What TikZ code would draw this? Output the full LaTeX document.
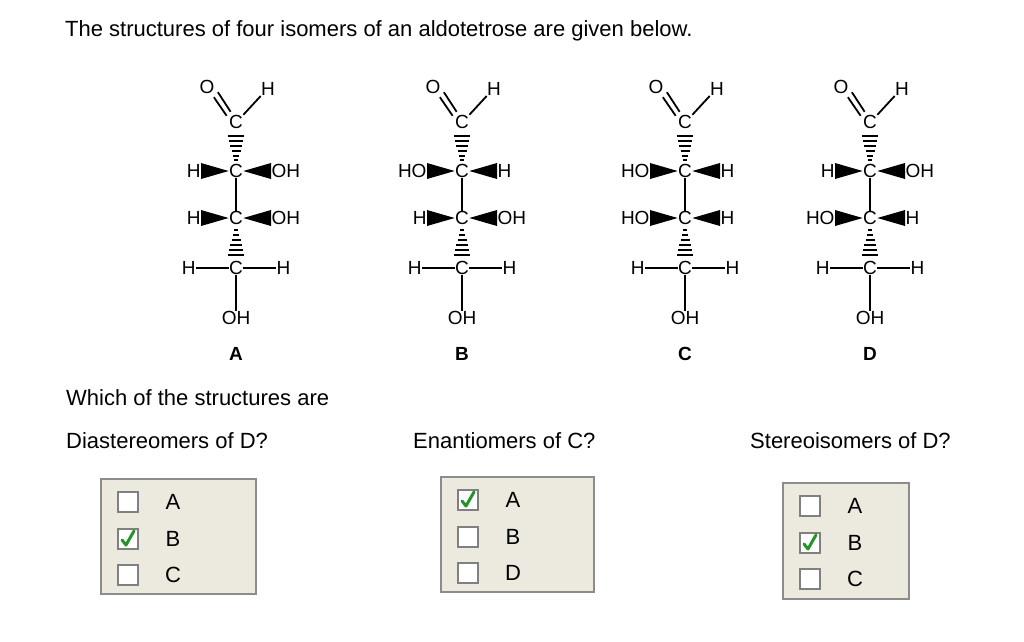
\documentclass[tikz,border=0pt]{standalone}
\usepackage{fontspec}
\setmainfont{Liberation Sans}
\definecolor{panelbg}{HTML}{ECE9DE}
\begin{document}
\begin{tikzpicture}[x=1pt,y=-1pt,
  atom/.style={inner sep=0.3pt,font=\fontsize{19}{19}\selectfont},
  lbl/.style={inner sep=0pt,font=\fontsize{22}{22}\selectfont,anchor=west},
  bond/.style={line width=1.8pt},
  panel/.style={draw=black!45,line width=2pt,fill=panelbg},
  cbox/.style={draw=black!50,line width=2.2pt,fill=white,minimum size=20pt,inner sep=0pt},
  tick/.style={draw=green!50!black!85,line width=3pt,line cap=round,line join=round}]
\useasboundingbox (0,0) rectangle (1024,641);
\node[lbl] (title) at (65,31) {The structures of four isomers of an aldotetrose are given below.};
\newcommand\molecule[7]{%
 \begin{scope}[shift={(#1,0)}]
  \node[atom] (#2o) at (-29,87) {O};
  \node[atom] (#2h) at (32,89) {H};
  \node[atom] (#2c0) at (0,122) {C};
  \node[atom] (#2c1) at (0,171) {C};
  \node[atom] (#2c2) at (0,218) {C};
  \node[atom] (#2c3) at (0,268) {C};
  \node[atom] (#2oh) at (0,318) {OH};
  \node[atom,anchor=east] (#2l1) at (-35,171) {#3};
  \node[atom,anchor=west] (#2r1) at (35,171) {#4};
  \node[atom,anchor=east] (#2l2) at (-35,218) {#5};
  \node[atom,anchor=west] (#2r2) at (35,218) {#6};
  \node[atom,anchor=east] (#2l3) at (-40,268) {H};
  \node[atom,anchor=west] (#2r3) at (40,268) {H};
  \node[atom,font=\fontsize{19}{19}\selectfont\bfseries] (#2lab) at (0,354) {#7};
  \draw[bond] ([shift={(3,-2)}]#2o.south east) -- ([shift={(2,-3)}]#2c0.north west);
  \draw[bond] ([shift={(-1,3)}]#2o.south east) -- ([shift={(-2,1)}]#2c0.north west);
  \draw[bond] (#2h.south west) -- (#2c0.north east);
  \foreach \y/\w in {136/8,141/7,146/6,151/4.5,156/3,160/2}{\draw[line width=1.8pt] (-\w,\y) -- (\w,\y);}
  \foreach \y/\w in {230/2,235/3,240/4.5,245/6,250/7,255/8}{\draw[line width=1.8pt] (-\w,\y) -- (\w,\y);}
  \draw[bond] (#2c1) -- (#2c2);
  \fill (#2c1.west) -- (#2l1.east |- 0,163) -- (#2l1.east |- 0,179) -- cycle;
  \fill (#2c1.east) -- (#2r1.west |- 0,163) -- (#2r1.west |- 0,179) -- cycle;
  \fill (#2c2.west) -- (#2l2.east |- 0,210) -- (#2l2.east |- 0,226) -- cycle;
  \fill (#2c2.east) -- (#2r2.west |- 0,210) -- (#2r2.west |- 0,226) -- cycle;
  \draw[bond] (#2l3) -- (#2c3) -- (#2r3);
  \draw[bond] (#2c3) -- (#2oh);
 \end{scope}}
\molecule{236}{a}{H}{OH}{H}{OH}{A}
\molecule{462}{b}{HO}{H}{H}{OH}{B}
\molecule{685}{c}{HO}{H}{HO}{H}{C}
\molecule{870}{d}{H}{OH}{HO}{H}{D}
\node[lbl] (q) at (66,398) {Which of the structures are};
\node[lbl] (q1) at (66,441) {Diastereomers of D?};
\node[lbl] (q2) at (413,441) {Enantiomers of C?};
\node[lbl] (q3) at (750,441) {Stereoisomers of D?};
\newcommand\choices[9]{%
 \draw[panel] (#1,#2) rectangle (#3,#4);
 \begin{scope}[shift={(#1,#2)}]
  \node[cbox] (#5a) at (27,23) {};
  \node[cbox] (#5b) at (27,60) {};
  \node[cbox] (#5c) at (27,96) {};
  \node[lbl,anchor=center] at (72,23) {#6};
  \node[lbl,anchor=center] at (72,60) {#7};
  \node[lbl,anchor=center] at (72,96) {#8};
  \draw[tick] ([shift={(-6,1)}]#5#9.center) -- ([shift={(-2,6)}]#5#9.center) -- ([shift={(6,-8)}]#5#9.center);
 \end{scope}}
\choices{101}{479}{256}{594}{p}{A}{B}{C}{b}
\choices{441}{477}{594}{592}{s}{A}{B}{D}{a}
\choices{783}{483}{909}{599}{t}{A}{B}{C}{b}
\end{tikzpicture}
\end{document}
